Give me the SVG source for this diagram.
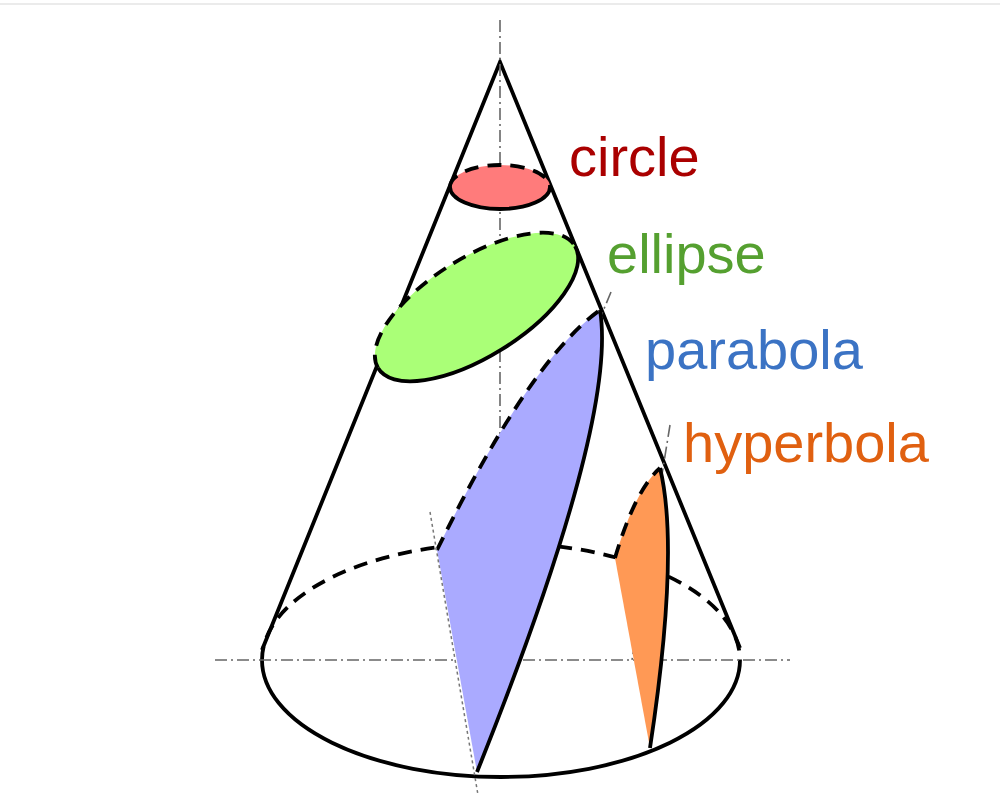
<svg xmlns="http://www.w3.org/2000/svg" width="1000" height="800" viewBox="0 0 1000 800">
<style>
.s{fill:none;stroke:#000;stroke-width:3.8}
.d{fill:none;stroke:#000;stroke-width:3.8;stroke-dasharray:14 9}
.ax{fill:none;stroke:#666;stroke-width:1.6;stroke-dasharray:12 4 2 4}
.t{font-family:"Liberation Sans",Arial,sans-serif;font-size:56px}
</style>
<rect width="1000" height="800" fill="#fff"/>
<line x1="0" y1="4" x2="1000" y2="4" stroke="#e5e5e5" stroke-width="1.5"/>
<g id="cone">
<path class="s" d="M262,650 L500,62 L740,648"/>
<path class="d" d="M262,660 A239,117 0 0 1 740,660"/>
<path class="s" d="M262,660 A239,117 0 0 0 740,660"/>
</g>
<g id="axes">
<line class="ax" x1="500" y1="20" x2="500" y2="560"/>
<line class="ax" x1="215" y1="660" x2="790" y2="660"/>
<line class="ax" x1="611" y1="292" x2="458" y2="660"/>
<line class="ax" x1="670" y1="425" x2="632" y2="660"/>
</g>
<g id="circle">
<path d="M450,187 A50,22 0 0 1 550,187 A50,22 0 0 1 450,187Z" fill="#ff7b7b"/>
<path class="d" d="M450,187 A50,22 0 0 1 550,187"/>
<path class="s" d="M450,187 A50,22 0 0 0 550,187"/>
</g>
<g id="ellipse">
<path d="M378,368 A115,49 -32 0 1 575,246 A115,49 -32 0 1 378,368Z" fill="#aaff77"/>
<path class="d" d="M378,368 A115,49 -32 0 1 575,246"/>
<path class="s" d="M378,368 A115,49 -32 0 0 575,246"/>
</g>
<g id="parabola">
<path d="M437,550 Q530,360 600,310 Q618,420 477,772 Z" fill="#aaaaff"/>
<path class="d" d="M437,550 Q530,360 600,310"/>
<path class="s" d="M600,310 Q618,420 477,772"/>
<line x1="430" y1="512" x2="478" y2="795" stroke="#777" stroke-width="1.5" stroke-dasharray="3 3"/>
</g>
<g id="hyperbola">
<path d="M615,558 Q635,490 660,468 Q680,550 650,748 Z" fill="#ff9955"/>
<path class="d" d="M615,558 Q635,490 660,468"/>
<path class="s" d="M660,468 Q680,550 650,748"/>
</g>
<text class="t" x="569" y="176" fill="#aa0000">circle</text>
<text class="t" x="607" y="273" fill="#55a030">ellipse</text>
<text class="t" x="645" y="369" fill="#3b73c4">parabola</text>
<text class="t" x="683" y="462" fill="#e06010">hyperbola</text>
</svg>
